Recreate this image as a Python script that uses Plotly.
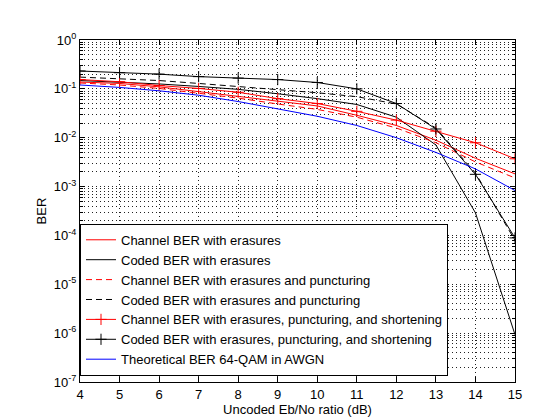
import plotly.graph_objects as go

# -----------------------------
# Data
# -----------------------------
ebno = [4, 5, 6, 7, 8, 9, 10, 11, 12, 13, 14, 15]

chan_eras = [0.138, 0.129, 0.110, 0.0871, 0.0708, 0.055, 0.0447, 0.0288, 0.0178, 8.9e-3, 3.8e-3, 1.82e-3]
coded_eras = [0.148, 0.138, 0.126, 0.112, 0.0977, 0.0794, 0.0631, 0.0479, 0.0263, 7.1e-3, 2.9e-4, 9.3e-7]
chan_punct = [0.132, 0.120, 0.102, 0.0813, 0.0646, 0.049, 0.038, 0.0263, 0.0158, 7.9e-3, 3.2e-3, 1.5e-3]
coded_punct = [0.174, 0.162, 0.148, 0.129, 0.112, 0.0955, 0.0832, 0.0692, 0.049, 0.0158, 1.9e-3, 7.9e-5]
chan_short = [0.155, 0.140, 0.117, 0.102, 0.0851, 0.0631, 0.0501, 0.0347, 0.0229, 0.0136, 7.9e-3, 3.7e-3]
coded_short = [0.232, 0.214, 0.200, 0.178, 0.166, 0.155, 0.135, 0.100, 0.0501, 0.0151, 1.78e-3, 8.9e-5]
theory_64qam = [0.120, 0.107, 0.0912, 0.0741, 0.055, 0.0389, 0.0275, 0.0178, 0.010, 5.0e-3, 2.3e-3, 8.3e-4]

series_names = [
    "Channel BER with erasures",
    "Coded BER with erasures",
    "Channel BER with erasures and puncturing",
    "Coded BER with erasures and puncturing",
    "Channel BER with erasures, puncturing, and shortening",
    "Coded BER with erasures, puncturing, and shortening",
    "Theoretical BER 64-QAM in AWGN",
]

x_ticks = list(range(4, 16))
y_exps = list(range(-7, 1))
y_ticks = [10.0 ** e for e in y_exps]
y_ticklabels = ["10<sup>%d</sup>" % e for e in y_exps]
y_minor = [k * 10.0 ** e for e in range(-7, 0) for k in range(2, 10)]

# -----------------------------
# Figure
# -----------------------------
RED, BLACK, BLUE = "#ff0000", "#000000", "#0000ff"
DASH = "6px,4px"
GRID_DOT = "1px,3px"

styles = [
    (chan_eras, RED, "solid", False),
    (coded_eras, BLACK, "solid", False),
    (chan_punct, RED, DASH, False),
    (coded_punct, BLACK, DASH, False),
    (chan_short, RED, "solid", True),
    (coded_short, BLACK, "solid", True),
    (theory_64qam, BLUE, "solid", False),
]

fig = go.Figure()
for name, (vals, color, dash, marks) in zip(series_names, styles):
    fig.add_trace(go.Scatter(
        x=ebno, y=vals, name=name,
        mode="lines+markers" if marks else "lines",
        line=dict(color=color, width=1, dash=dash),
        marker=dict(symbol="cross-thin", size=8,
                    line=dict(width=1, color=color)),
    ))

axis_common = dict(
    showline=True, linecolor="black", linewidth=1, mirror="ticks",
    ticks="inside", ticklen=5, tickcolor="black",
    showgrid=True, gridcolor="#222222", griddash=GRID_DOT, gridwidth=1,
    zeroline=False, tickfont=dict(size=13, color="black"),
)

fig.update_xaxes(
    range=[4, 15], tickvals=x_ticks,
    title=dict(text="Uncoded Eb/No ratio (dB)", font=dict(size=13), standoff=4),
    **axis_common,
)
fig.update_yaxes(
    type="log", range=[-7, 0], tickvals=y_ticks, ticktext=y_ticklabels,
    title=dict(text="BER", font=dict(size=13), standoff=4),
    minor=dict(tickvals=y_minor, ticks="inside", ticklen=3, tickcolor="black",
               showgrid=True, gridcolor="#222222", griddash=GRID_DOT, gridwidth=1),
    **axis_common,
)

fig.update_layout(
    width=560, height=420,
    margin=dict(l=72, r=53, t=32, b=46),
    paper_bgcolor="white", plot_bgcolor="white",
    font=dict(family="Liberation Sans, Arial, sans-serif", size=13, color="black"),
    showlegend=True,
    legend=dict(
        x=0.0, y=0.018, xanchor="left", yanchor="bottom",
        bgcolor="white", bordercolor="black", borderwidth=1,
        font=dict(size=13), tracegroupgap=0, itemwidth=30,
    ),
)

fig.write_html("out.html", config={"displayModeBar": False})
